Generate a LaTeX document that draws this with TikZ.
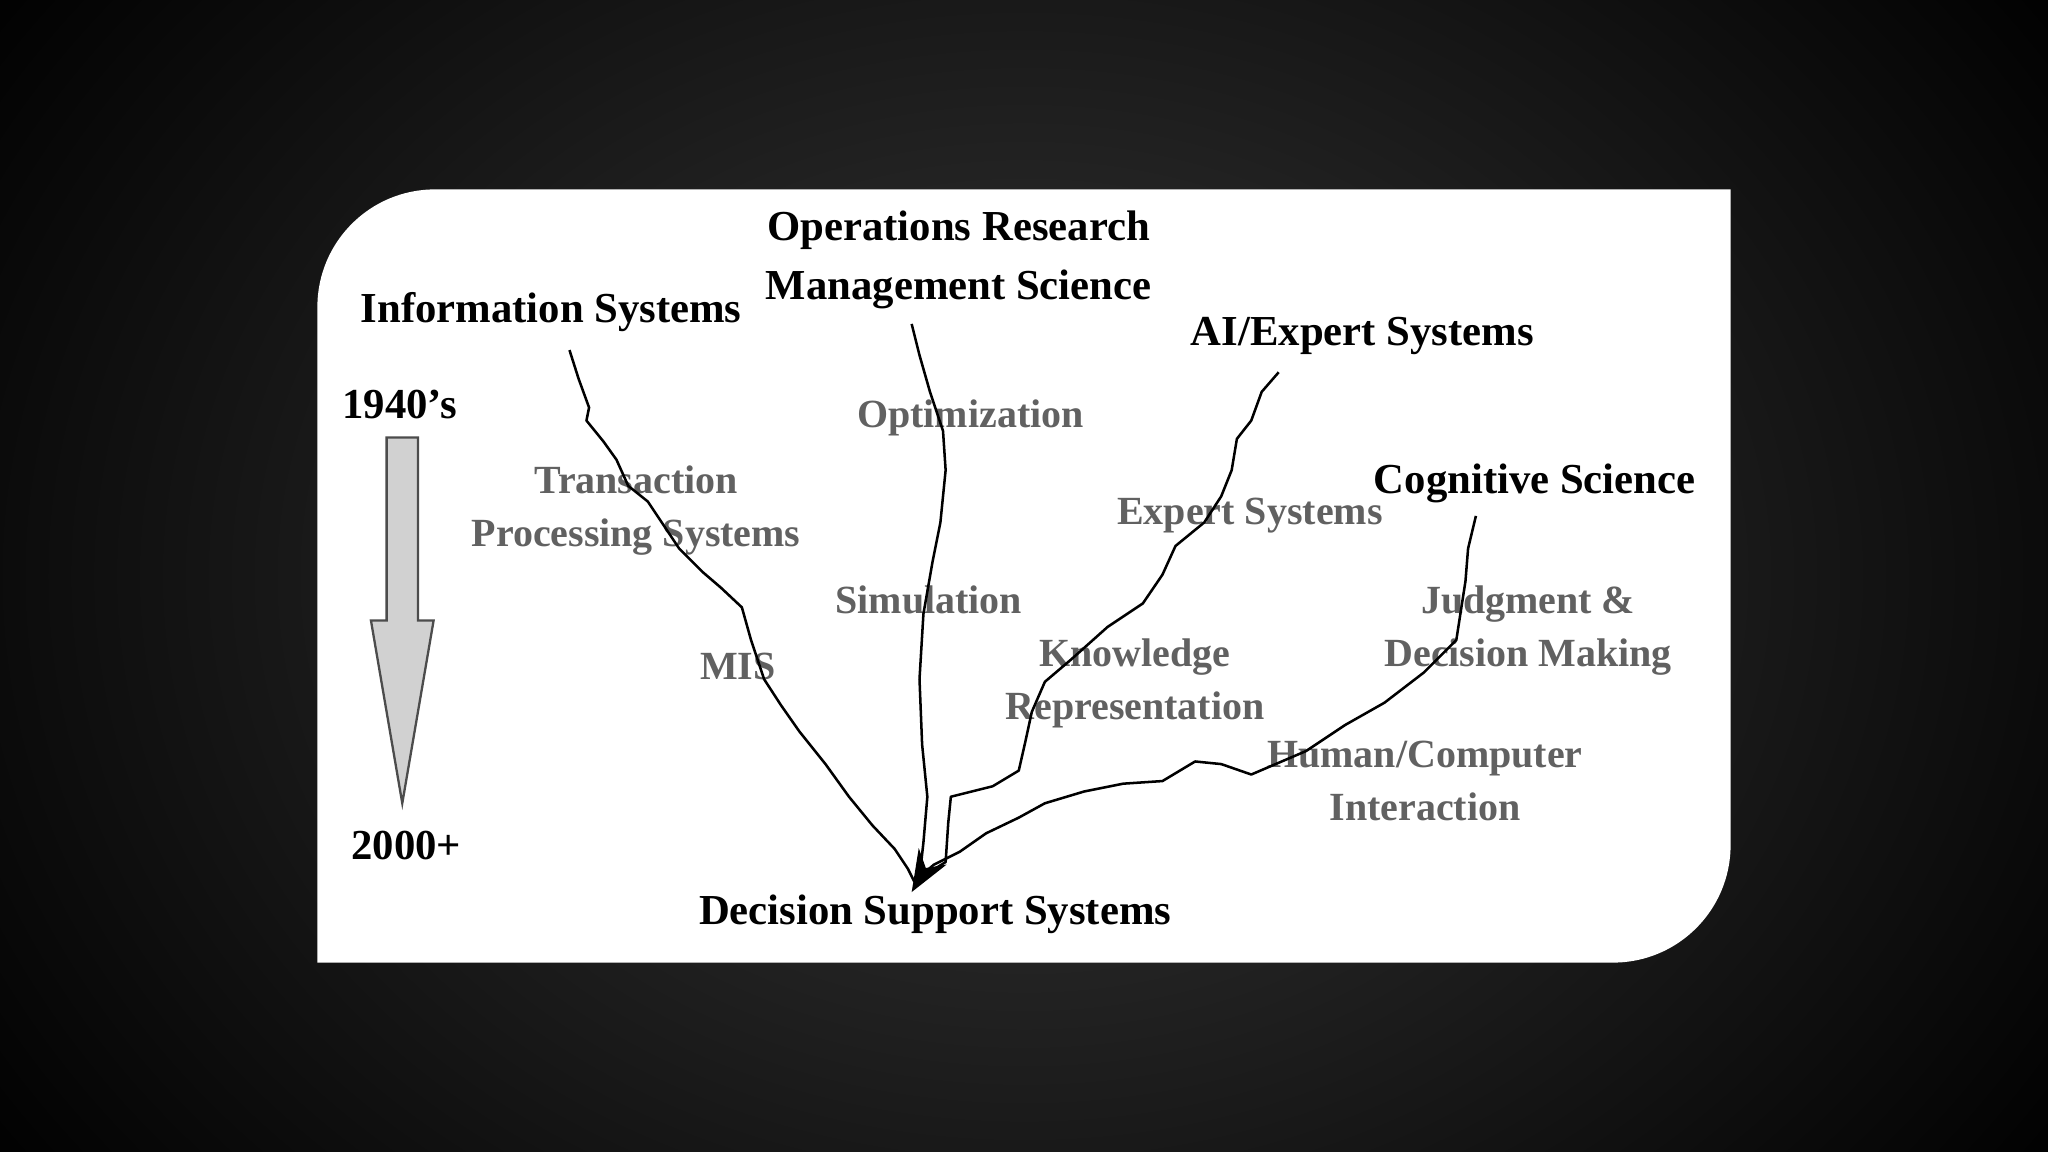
\documentclass[tikz,border=0pt]{standalone}
\usepackage{fontspec}
\setmainfont{Liberation Serif}
\usetikzlibrary{arrows.meta}
\usetikzlibrary{positioning}

\tikzset{
	head/.style={font=\bfseries\fontsize{9.3}{11}\selectfont, text=black, align=center, inner sep=1pt},
	topic/.style={font=\bfseries\fontsize{8.7}{10.5}\selectfont, text=black!62, align=center, inner sep=1pt},
	branch/.style={draw=black, line width=0.55pt, line join=round}
}

\begin{document}
\begin{tikzpicture}[x=0.01cm, y=-0.01cm]
	\useasboundingbox (0,0) rectangle (1568,882);
	\fill[black] (0,0) rectangle (1568,882);
	\shade[inner color=black!78, outer color=black, shading=radial] (-200,-350) rectangle (1768,1232);

	% white panel
	\fill[white] (243,737) -- (243,235) arc[start angle=180, end angle=270, radius=90]
	    -- (1325,145) -- (1325,647) arc[start angle=0, end angle=90, radius=90] -- cycle;

	% headings
	\node[head] (is) at (422,239) {Information Systems};
	\node[head] (or) at (734,199) {Operations Research\\[2pt]Management Science};
	\node[head] (ai) at (1043,257) {AI/Expert Systems};
	\node[head] (cs) at (1175,370) {Cognitive Science};
	\node[head] (dss) at (716,700) {Decision Support Systems};
	\node[head] (y1) at (306,310) {1940's};
	\node[head] (y2) at (311,647) {2000+};

	% topics
	\node[topic] (tps) at (487,391) {Transaction\\[1pt]Processing Systems};
	\node[topic] (opt) at (743,320) {Optimization};
	\node[topic] (sim) at (711,459) {Simulation};
	\node[topic] (mis) at (565,510) {MIS};
	\node[topic] (es) at (957,395) {Expert Systems};
	\node[topic] (kr) at (869,523) {Knowledge\\[1pt]Representation};
	\node[topic] (jdm) at (1170,483) {Judgment \&\\[1pt]Decision Making};
	\node[topic] (hci) at (1091,598) {Human/Computer\\[1pt]Interaction};

	% time arrow
	\draw[black!70, fill=black!18, line width=0.5pt]
	    (296,335) -- (320,335) -- (320,475) -- (332,475) -- (308,615)
	    -- (284,475) -- (296,475) -- cycle;

	% branches
	\coordinate (isb) at (436,268);
	\coordinate (orb) at (698,248);
	\coordinate (aib) at (979,285);
	\coordinate (csb) at (1130,395);
	\coordinate (end) at (698,683);

	\draw[branch] (isb) -- (443,290) -- (451,312) -- (449,322) -- (462,338) -- (472,352) -- (481,372) -- (496,384) -- (508,402) -- (520,420) -- (538,438) -- (552,450) -- (568,465) -- (575,490) -- (585,520) -- (598,540) -- (612,560) -- (632,585) -- (650,610) -- (668,632) -- (685,650) -- (695,665) -- (700,675);
	\draw[branch] (orb) -- (704,272) -- (712,300) -- (722,330) -- (724,360) -- (720,400) -- (714,430) -- (707,470) -- (704,520) -- (706,570) -- (710,610) -- (707,645) -- (704,672);
	\draw[branch] (aib) -- (966,300) -- (958,322) -- (947,336) -- (943,360) -- (935,380) -- (922,400) -- (900,418) -- (890,440) -- (875,462) -- (848,480) -- (820,505) -- (800,522) -- (790,545) -- (785,568) -- (780,590) -- (760,602) -- (728,610) -- (726,630) -- (724,660) -- (708,670);
	\draw[branch] (csb) -- (1124,420) -- (1122,445) -- (1115,490) -- (1090,515) -- (1060,538) -- (1030,555) -- (1000,575) -- (958,593) -- (935,585) -- (915,583) -- (890,598) -- (860,600) -- (830,606) -- (800,615) -- (780,626) -- (755,638) -- (735,652) -- (715,662) -- (708,668);
	\draw[-{Stealth[length=9pt, width=7pt]}, line width=0.6pt] (708,666) -- (end);
\end{tikzpicture}
\end{document}
